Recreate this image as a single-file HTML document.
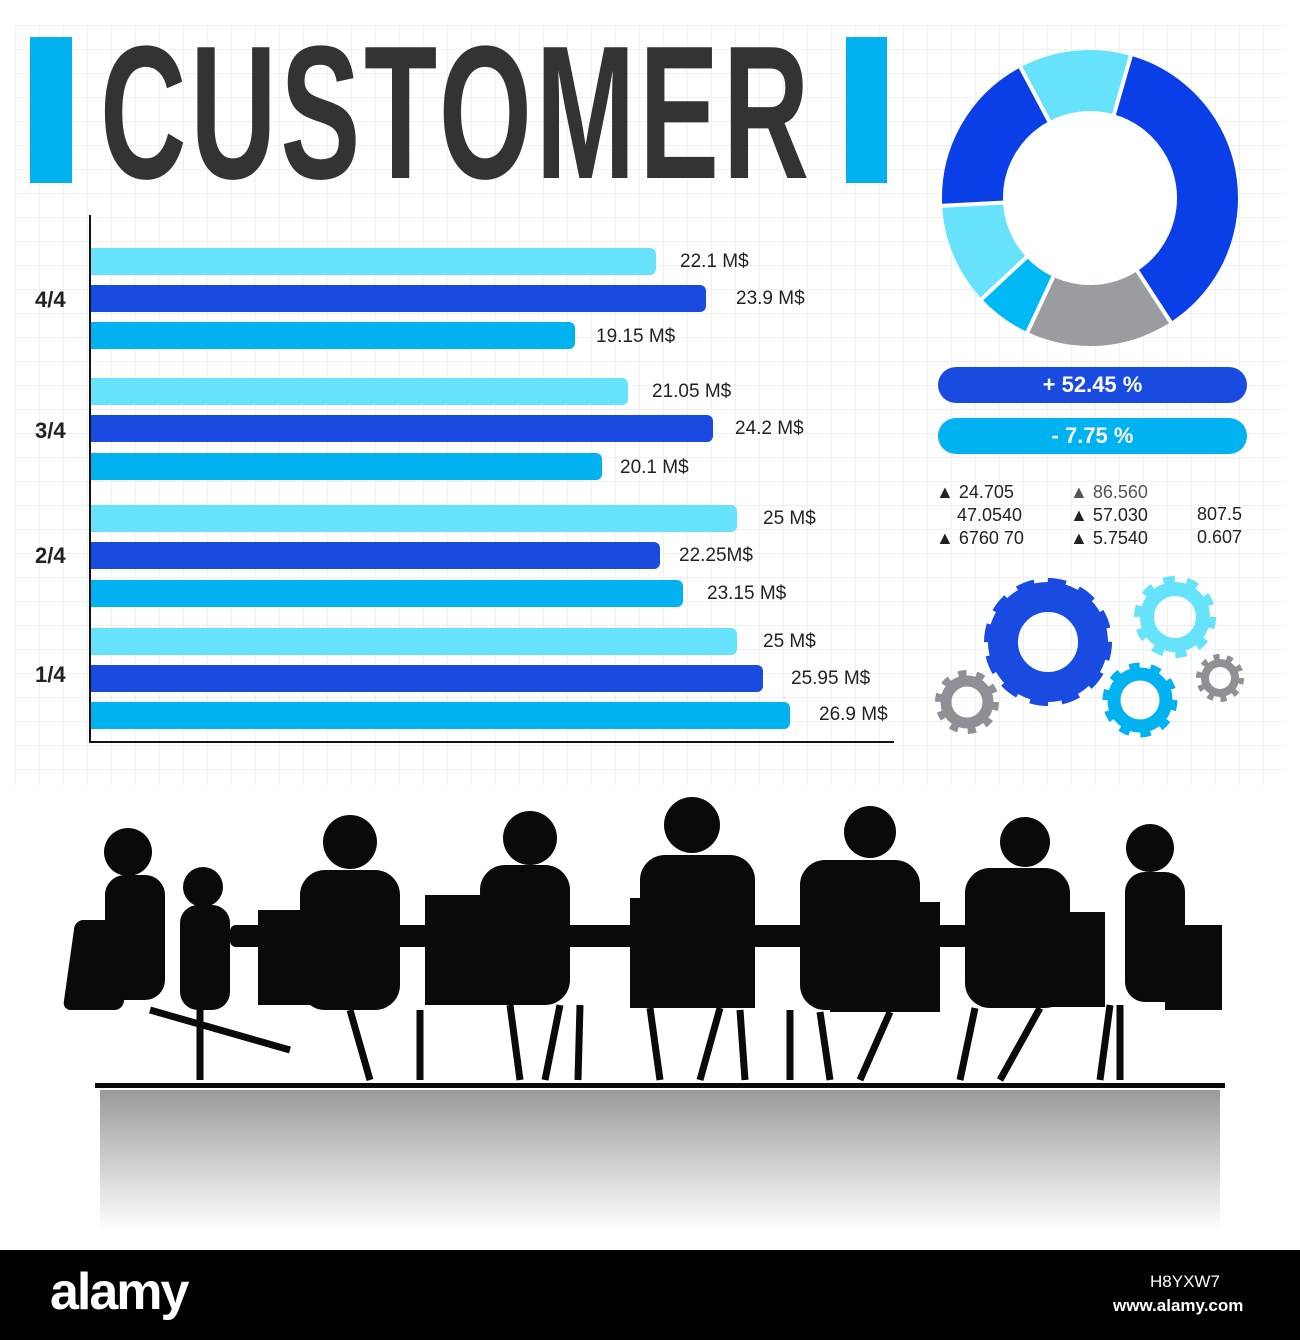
<!DOCTYPE html>
<html><head><meta charset="utf-8"><style>
body{margin:0;width:1300px;height:1340px;overflow:hidden;background:#fff;font-family:"Liberation Sans",sans-serif;position:relative}
.bg{position:absolute;left:15px;top:25px;width:1270px;height:760px;background-image:linear-gradient(#f0f0f0 1px,transparent 1px),linear-gradient(90deg,#f0f0f0 1px,transparent 1px);background-size:24px 24px}
.a{position:absolute}
.bar{position:absolute;left:91px;height:27px;border-radius:0 6px 6px 0}
.l{position:absolute;font-size:19px;color:#222}
.c1{background:#66e3fb}.c2{background:#1a4be0}.c3{background:#00b2f0}
.q{position:absolute;left:35px;font-size:22px;font-weight:bold;color:#222}
.s{position:absolute;font-size:18px;color:#222}
</style></head><body>
<div class="bg"></div>
<div class="a" style="left:30px;top:37px;width:42px;height:146px;background:#00b2f0"></div>
<div class="a" style="left:846px;top:37px;width:41px;height:146px;background:#00b2f0"></div>
<div class="a" style="left:100px;top:18px;width:1100px;font-size:190px;line-height:190px;font-weight:bold;color:#333;letter-spacing:6px;transform:scaleX(0.63);transform-origin:left;white-space:nowrap">CUSTOMER</div>
<div class="a" style="left:89px;top:215px;width:2px;height:528px;background:#111"></div>
<div class="a" style="left:89px;top:741px;width:805px;height:2px;background:#111"></div>
<div class="bar c1" style="top:248px;width:565px"></div><div class="l" style="left:680px;top:251px">22.1 M$</div>
<div class="bar c2" style="top:285px;width:615px"></div><div class="l" style="left:736px;top:288px">23.9 M$</div>
<div class="bar c3" style="top:322px;width:484px"></div><div class="l" style="left:596px;top:326px">19.15 M$</div>
<div class="bar c1" style="top:378px;width:537px"></div><div class="l" style="left:652px;top:381px">21.05 M$</div>
<div class="bar c2" style="top:415px;width:622px"></div><div class="l" style="left:735px;top:418px">24.2 M$</div>
<div class="bar c3" style="top:453px;width:511px"></div><div class="l" style="left:620px;top:457px">20.1 M$</div>
<div class="bar c1" style="top:505px;width:646px"></div><div class="l" style="left:763px;top:508px">25 M$</div>
<div class="bar c2" style="top:542px;width:569px"></div><div class="l" style="left:679px;top:545px">22.25M$</div>
<div class="bar c3" style="top:580px;width:592px"></div><div class="l" style="left:707px;top:583px">23.15 M$</div>
<div class="bar c1" style="top:628px;width:646px"></div><div class="l" style="left:763px;top:631px">25 M$</div>
<div class="bar c2" style="top:665px;width:672px"></div><div class="l" style="left:791px;top:668px">25.95 M$</div>
<div class="bar c3" style="top:702px;width:699px"></div><div class="l" style="left:819px;top:704px">26.9 M$</div>
<div class="q" style="top:287px">4/4</div><div class="q" style="top:418px">3/4</div><div class="q" style="top:543px">2/4</div><div class="q" style="top:662px">1/4</div>
<svg class="a" style="left:0;top:0" width="1300" height="800">
<g transform="translate(1090,198) rotate(242)" fill="none" stroke-width="61">
<circle r="117.5" stroke="#66e3fb" stroke-dasharray="90.2 700" stroke-dashoffset="0"/>
<circle r="117.5" stroke="#0a3fe8" stroke-dasharray="268.7 600" stroke-dashoffset="-90.2"/>
<circle r="117.5" stroke="#9a9ca0" stroke-dasharray="118.9 700" stroke-dashoffset="-358.9"/>
<circle r="117.5" stroke="#00b8f4" stroke-dasharray="45.1 800" stroke-dashoffset="-477.8"/>
<circle r="117.5" stroke="#66e3fb" stroke-dasharray="82 800" stroke-dashoffset="-522.9"/>
<circle r="117.5" stroke="#0a3fe8" stroke-dasharray="133.4 800" stroke-dashoffset="-604.9"/>
</g>
<g transform="translate(1090,198)" stroke="#fff" stroke-width="4">
<line x1="0" y1="0" x2="0" y2="-152" transform="rotate(-28)"/><line x1="0" y1="0" x2="0" y2="-152" transform="rotate(16)"/>
<line x1="0" y1="0" x2="0" y2="-152" transform="rotate(147)"/><line x1="0" y1="0" x2="0" y2="-152" transform="rotate(205)"/>
<line x1="0" y1="0" x2="0" y2="-152" transform="rotate(227)"/><line x1="0" y1="0" x2="0" y2="-152" transform="rotate(267)"/>
<circle r="86" fill="#fff" stroke="none"/></g>
<g fill="none">
<circle cx="1048" cy="642" r="45" stroke="#1a4be0" stroke-width="30" />
<circle cx="1048" cy="642" r="57" stroke="#1a4be0" stroke-width="14" stroke-dasharray="17 12.8"/>
<circle cx="1175" cy="617" r="28" stroke="#66e3fb" stroke-width="14"/>
<circle cx="1175" cy="617" r="36" stroke="#66e3fb" stroke-width="10" stroke-dasharray="11 11.6"/>
<circle cx="1140" cy="700" r="26" stroke="#00b2f0" stroke-width="13"/>
<circle cx="1140" cy="700" r="33" stroke="#00b2f0" stroke-width="9" stroke-dasharray="10 10.7"/>
<circle cx="967" cy="702" r="21" stroke="#8e9095" stroke-width="11"/>
<circle cx="967" cy="702" r="28" stroke="#8e9095" stroke-width="8" stroke-dasharray="8 9.6"/>
<circle cx="1220" cy="678" r="15" stroke="#8e9095" stroke-width="8"/>
<circle cx="1220" cy="678" r="21" stroke="#8e9095" stroke-width="6" stroke-dasharray="6 7.2"/>
</g></svg>
<div class="a" style="left:938px;top:367px;width:309px;height:36px;border-radius:18px;background:#1a4be0;color:#fff;font-size:22px;font-weight:bold;text-align:center;line-height:36px">+ 52.45 %</div>
<div class="a" style="left:938px;top:418px;width:309px;height:36px;border-radius:18px;background:#00b2f0;color:#fff;font-size:22px;font-weight:bold;text-align:center;line-height:36px">- 7.75 %</div>
<div class="s" style="left:936px;top:482px">▲ 24.705</div><div class="s" style="left:957px;top:505px">47.0540</div><div class="s" style="left:936px;top:528px">▲ 6760 70</div>
<div class="s" style="left:1070px;top:482px;color:#555">▲ 86.560</div><div class="s" style="left:1070px;top:505px">▲ 57.030</div><div class="s" style="left:1070px;top:528px">▲ 5.7540</div>
<div class="s" style="left:1197px;top:504px">807.5</div><div class="s" style="left:1197px;top:527px">0.607</div>
<div class="a" style="left:100px;top:1090px;width:1120px;height:140px;background:linear-gradient(#9a9a9a,#fff)"></div>
<svg class="a" style="left:0;top:780px" width="1300" height="320" fill="#0a0a0a">
<rect x="230" y="145" width="870" height="22" rx="6"/>
<rect x="95" y="303" width="1130" height="5"/>
<g><circle cx="128" cy="72" r="24"/><rect x="105" y="95" width="60" height="125" rx="20"/>
<circle cx="203" cy="107" r="20"/><rect x="180" y="125" width="50" height="105" rx="18"/>
<circle cx="350" cy="62" r="27"/><rect x="300" y="90" width="100" height="140" rx="25"/>
<circle cx="530" cy="58" r="27"/><rect x="480" y="85" width="90" height="140" rx="25"/>
<circle cx="692" cy="45" r="28"/><rect x="640" y="75" width="115" height="150" rx="25"/>
<circle cx="870" cy="52" r="26"/><rect x="800" y="80" width="120" height="150" rx="25"/>
<circle cx="1025" cy="62" r="25"/><rect x="965" y="88" width="105" height="140" rx="25"/>
<circle cx="1150" cy="68" r="24"/><rect x="1125" y="92" width="60" height="130" rx="20"/></g>
<g><rect x="95" y="140" width="60" height="90" rx="8" transform="skewX(-8)"/><rect x="258" y="130" width="100" height="95"/><rect x="425" y="115" width="115" height="110"/><rect x="630" y="118" width="125" height="110"/><rect x="830" y="122" width="110" height="110"/><rect x="1010" y="132" width="95" height="95"/><rect x="1165" y="145" width="57" height="85"/></g>
<g stroke="#0a0a0a" stroke-width="7" fill="none"><path d="M150 230 L290 270 M350 230 L370 300 M420 230 L420 300 M510 225 L520 300 M560 225 L545 300 M650 228 L660 300 M720 228 L700 300 M820 232 L830 300 M890 232 L860 300 M975 228 L960 300 M1040 228 L1000 300 M1110 225 L1100 300 M200 230 L200 300 M580 225 L578 300 M740 230 L745 300 M790 230 L790 300 M1120 225 L1120 300"/></g>
</svg>
<div class="a" style="left:0;top:1250px;width:1300px;height:90px;background:#000"></div>
<div class="a" style="left:50px;top:1262px;color:#fff;font-size:52px;font-weight:bold;letter-spacing:-2px">alamy</div>
<div class="a" style="left:1150px;top:1272px;color:#fff;font-size:17px">H8YXW7</div>
<div class="a" style="left:1113px;top:1296px;color:#fff;font-size:17px;font-weight:bold">www.alamy.com</div>
</body></html>
